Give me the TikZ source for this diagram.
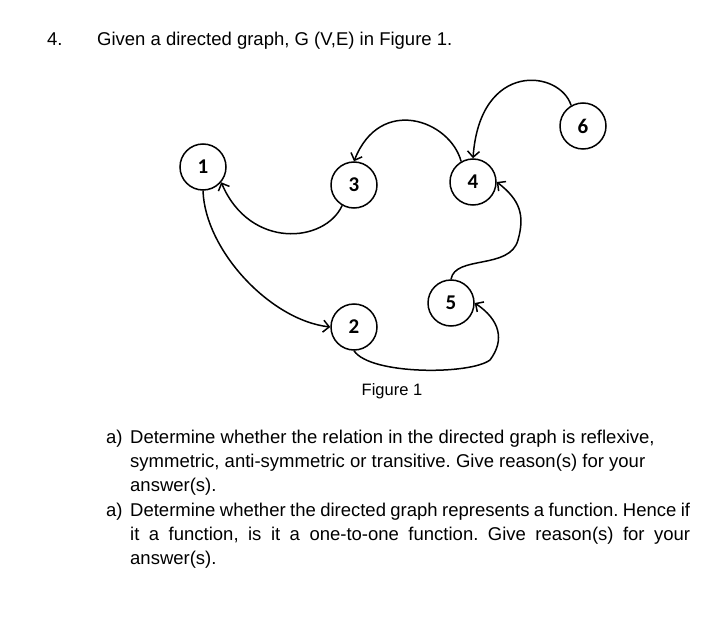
\documentclass[tikz,border=0pt]{standalone}
\usepackage{fontspec}
\setmainfont{Liberation Sans}
\newfontfamily\nodefont{Carlito}
\usetikzlibrary{arrows.meta}
\begin{document}
\frenchspacing
\begin{tikzpicture}[x=1pt,y=-1pt,
  v/.style={circle,draw,line width=1.5pt,minimum size=46pt,inner sep=0pt,font=\nodefont\bfseries\fontsize{21}{21}\selectfont},
  e/.style={line width=1.5pt,-{Straight Barb[length=6pt,width=12pt]}},
  t/.style={anchor=base west,inner sep=0pt,font=\fontsize{18.5}{22}\selectfont}]
\useasboundingbox (0,0) rectangle (711,628);
\node[t] (q) at (47,46) {4.};
\node[t] (g) at (97,46) {Given a directed graph, G (V,E) in Figure 1.};
\node (n1) [v] at (203,167) {1};
\node (n3) [v] at (354,185) {3};
\node (n4) [v] at (473,182) {4};
\node (n6) [v] at (583,126) {6};
\node (n5) [v] at (451,303) {5};
\node (n2) [v] at (354,327) {2};
\draw[e] (n3.-120) .. controls (325,243) and (250,250) .. (n1.-40);
\draw[e] (n1.-90) .. controls (205,250) and (270,320) .. (n2.west);
\draw[e] (n2.-90) .. controls (370,375) and (470,375) .. (490,360) .. controls (505,340) and (500,320) .. (n5.east);
\draw[e] (n5.90) .. controls (455,255) and (510,270) .. (518,240) .. controls (525,215) and (520,200) .. (n4.east);
\draw[e] (n4.120) .. controls (450,120) and (380,95) .. (n3.90);
\draw[e] (n6.120) .. controls (560,70) and (480,60) .. (n4.90);
\node[t,anchor=base] (f) at (392,395) {\fontsize{16.5}{18}\selectfont Figure 1};
\node[t] (a1) at (106,443) {a)};
\node[t] (l1) at (130,443) {Determine whether the relation in the directed graph is reflexive,};
\node[t] (l2) at (130,467) {symmetric, anti-symmetric or transitive. Give reason(s) for your};
\node[t] (l3) at (130,491) {answer(s).};
\node[t] (a2) at (106,516) {a)};
\node[t] (l4) at (130,516) {\makebox[560pt][s]{Determine whether the directed graph represents a function. Hence if}};
\node[t] (l5) at (130,540) {\makebox[560pt][s]{it a function, is it a one-to-one function. Give reason(s) for your}};
\node[t] (l6) at (130,564) {answer(s).};
\end{tikzpicture}
\end{document}
